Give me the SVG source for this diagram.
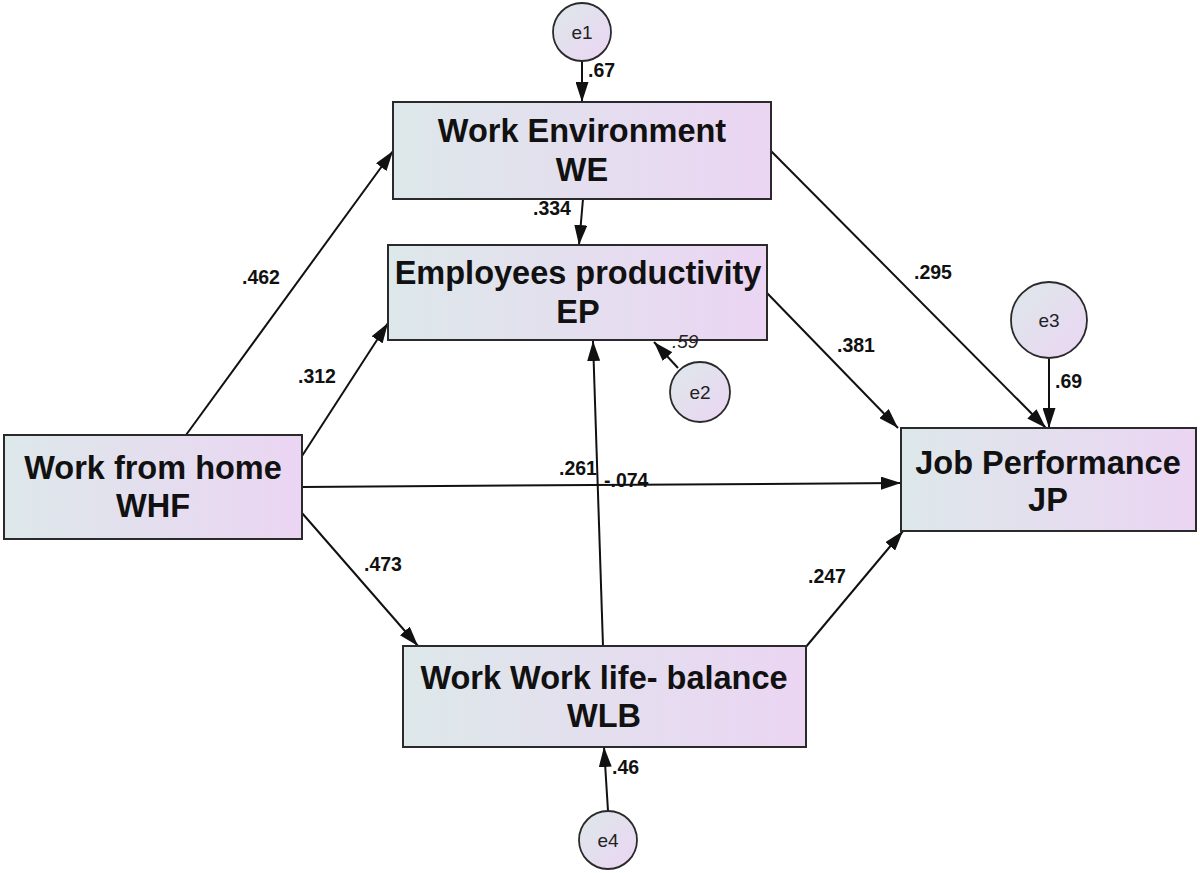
<svg xmlns="http://www.w3.org/2000/svg" width="1200" height="873" viewBox="0 0 1200 873">
<style>
.box{stroke:#2a2a2a;stroke-width:2;fill:url(#g)}
.circ{stroke:#2a2a2a;stroke-width:1.8;fill:url(#gc)}
.t{font-family:"Liberation Sans",Arial,sans-serif;font-weight:bold;font-size:32.5px;fill:#111;text-anchor:middle}
.e{font-family:"Liberation Sans",Arial,sans-serif;font-size:19px;fill:#222;text-anchor:middle}
.l{font-family:"Liberation Sans",Arial,sans-serif;font-weight:bold;font-size:19.5px;fill:#111}
.li{font-family:"Liberation Sans",Arial,sans-serif;font-style:italic;font-size:19px;fill:#222}
.c{stroke:#111;stroke-width:2;fill:none;marker-end:url(#a)}
</style>
<defs>
<linearGradient id="g" x1="0" y1="0" x2="1" y2="0">
<stop offset="0" stop-color="#dde8ea"/>
<stop offset="1" stop-color="#ebd5f3"/>
</linearGradient>
<linearGradient id="gc" x1="0" y1="0" x2="1" y2="1">
<stop offset="0" stop-color="#dde8ea"/>
<stop offset="1" stop-color="#ebd5f3"/>
</linearGradient>
<marker id="a" viewBox="0 0 20 13" refX="20" refY="6.5" markerWidth="20" markerHeight="13" markerUnits="userSpaceOnUse" orient="auto">
<path d="M0,0 L20,6.5 L0,13 Z" fill="#111"/>
</marker>
</defs>
<g id="connectors">
<line class="c" x1="582" y1="61" x2="582" y2="102"/>
<line class="c" x1="583" y1="199" x2="579" y2="245"/>
<line class="c" x1="678" y1="368" x2="654" y2="342"/>
<line class="c" x1="603" y1="646" x2="593" y2="341"/>
<line class="c" x1="186" y1="435" x2="393" y2="151"/>
<line class="c" x1="302" y1="456" x2="388" y2="323"/>
<line class="c" x1="302" y1="487" x2="901" y2="483"/>
<line class="c" x1="302" y1="513" x2="418" y2="646"/>
<line class="c" x1="771" y1="151" x2="1046" y2="428"/>
<line class="c" x1="767" y1="293" x2="898" y2="428"/>
<line class="c" x1="805" y1="648" x2="903" y2="531"/>
<line class="c" x1="1049" y1="359" x2="1049" y2="428"/>
<line class="c" x1="608" y1="811" x2="604" y2="747"/>
</g>
<g id="WE">
<rect class="box" x="393" y="102" width="378" height="97"/>
<text class="t" x="582" y="142">Work Environment</text>
<text class="t" x="582" y="181">WE</text>
</g>
<g id="EP">
<rect class="box" x="388" y="245" width="379" height="95"/>
<text class="t" x="578" y="284">Employees productivity</text>
<text class="t" x="578" y="323">EP</text>
</g>
<g id="WHF">
<rect class="box" x="4" y="435" width="298" height="104"/>
<text class="t" x="153" y="479">Work from home</text>
<text class="t" x="153" y="517">WHF</text>
</g>
<g id="JP">
<rect class="box" x="901" y="428" width="295" height="103"/>
<text class="t" x="1048" y="474">Job Performance</text>
<text class="t" x="1048" y="511">JP</text>
</g>
<g id="WLB">
<rect class="box" x="403" y="646" width="403" height="101"/>
<text class="t" x="604" y="689">Work Work life- balance</text>
<text class="t" x="604" y="727">WLB</text>
</g>
<g id="e1">
<circle class="circ" cx="582" cy="32" r="29"/>
<text class="e" x="582" y="39">e1</text>
</g>
<g id="e2">
<circle class="circ" cx="700" cy="392" r="30"/>
<text class="e" x="700" y="399">e2</text>
</g>
<g id="e3">
<circle class="circ" cx="1049" cy="320" r="38"/>
<text class="e" x="1049" y="327">e3</text>
</g>
<g id="e4">
<circle class="circ" cx="608" cy="840" r="29"/>
<text class="e" x="608" y="847">e4</text>
</g>
<g id="labels">
<text class="l" x="588" y="77">.67</text>
<text class="l" x="533" y="215">.334</text>
<text class="li" x="672" y="348">.59</text>
<text class="l" x="559" y="475">.261</text>
<text class="l" x="604" y="487">-.074</text>
<text class="l" x="242" y="284">.462</text>
<text class="l" x="298" y="383">.312</text>
<text class="l" x="364" y="571">.473</text>
<text class="l" x="914" y="279">.295</text>
<text class="l" x="837" y="352">.381</text>
<text class="l" x="1055" y="388">.69</text>
<text class="l" x="808" y="583">.247</text>
<text class="l" x="612" y="774">.46</text>
</g>
</svg>
